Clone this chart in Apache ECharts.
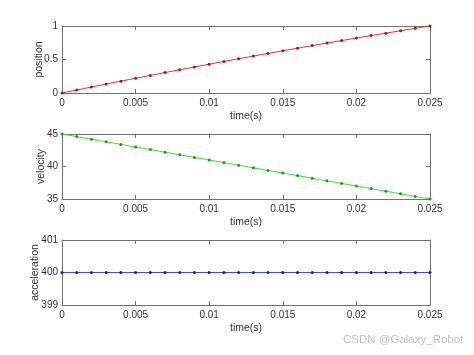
<!DOCTYPE html>
<html><head><meta charset="utf-8">
<script src="https://cdn.jsdelivr.net/npm/echarts@6/dist/echarts.min.js"></script>
<style>html,body{margin:0;padding:0;background:#fff}#c{width:474px;height:355px}</style>
</head><body><div id="c"></div>
<script>
const time = [0,0.001,0.002,0.003,0.004,0.005,0.006,0.007,0.008,0.009,0.010,0.011,0.012,0.013,0.014,0.015,0.016,0.017,0.018,0.019,0.020,0.021,0.022,0.023,0.024,0.025];
const position = [0,0.0448,0.0892,0.1332,0.1768,0.22,0.2628,0.3052,0.3472,0.3888,0.43,0.4708,0.5112,0.5512,0.5908,0.63,0.6688,0.7072,0.7452,0.7828,0.82,0.8568,0.8932,0.9292,0.9648,1.0];
const velocity = [45,44.6,44.2,43.8,43.4,43,42.6,42.2,41.8,41.4,41,40.6,40.2,39.8,39.4,39,38.6,38.2,37.8,37.4,37,36.6,36.2,35.8,35.4,35];
const acceleration = [400,400,400,400,400,400,400,400,400,400,400,400,400,400,400,400,400,400,400,400,400,400,400,400,400,400];
const xTicks = [0,0.005,0.01,0.015,0.02,0.025];
const yNames = ['position','velocity','acceleration'];
const yRanges = [[0,1,0.5],[35,45,5],[399,401,1]];

const font = 'Liberation Sans';
const axisCol = '#707070';
const txtCol = '#333';
const grids = [
  {left:62,right:44,top:26,height:67},
  {left:62,right:44,top:134,height:65},
  {left:62,right:44,top:240,height:65}
];
const nameGaps=[17,15,21];
const xAxis=[], yAxis=[], series=[];
const lineCols=['#e8323c','#3ee03e','#4a4ae0'];
const dotCols=['#a0142a','#1a9a1a','#1a1a80'];
const datas=[position,velocity,acceleration];
grids.forEach((g,i)=>{
  const base={type:'value',min:0,max:0.025,interval:0.005,gridIndex:i,
    axisLine:{show:true,onZero:false,lineStyle:{color:axisCol,width:1}},
    axisTick:{show:true,inside:true,length:4,lineStyle:{color:axisCol}},
    splitLine:{show:false}};
  xAxis.push(Object.assign({},base,{position:'bottom',name:'time(s)',nameLocation:'middle',nameGap:18,nameMoveOverlap:false,
    nameTextStyle:{fontFamily:font,fontSize:10.5,color:txtCol,verticalAlign:'top'},
    axisLabel:{fontFamily:font,fontSize:10,color:txtCol,margin:5,
      formatter:v=>{const t=xTicks.find(x=>Math.abs(x-v)<1e-9);return t===undefined?'':String(t);}}}));
  xAxis.push(Object.assign({},base,{position:'top',axisLabel:{show:false}}));
  const [mn,mx,iv]=yRanges[i];
  const yb={type:'value',min:mn,max:mx,interval:iv,gridIndex:i,
    axisLine:{show:true,onZero:false,lineStyle:{color:axisCol,width:1}},
    axisTick:{show:true,inside:true,length:4,lineStyle:{color:axisCol}},
    splitLine:{show:false}};
  yAxis.push(Object.assign({},yb,{position:'left',name:yNames[i],nameLocation:'middle',nameGap:nameGaps[i],nameMoveOverlap:false,
    nameTextStyle:{fontFamily:font,fontSize:10.5,color:txtCol},
    axisLabel:{fontFamily:font,fontSize:10,color:txtCol,margin:4}}));
  yAxis.push(Object.assign({},yb,{position:'right',axisLabel:{show:false}}));
  series.push({type:'line',xAxisIndex:i*2,yAxisIndex:i*2,
    data:time.map((t,k)=>[t,datas[i][k]]),
    symbol:'circle',symbolSize:3,showSymbol:true,
    lineStyle:{color:lineCols[i],width:1},
    itemStyle:{color:dotCols[i]},animation:false});
});
const chart=echarts.init(document.getElementById('c'),null,{renderer:'canvas'});
chart.setOption({
  animation:false,
  grid:grids,xAxis,yAxis,series,
  graphic:[{type:'text',left:343,top:334,style:{text:'CSDN @Galaxy_Robot',fontFamily:font,fontSize:11.5,fill:'#c0c0c0'}}]
});
</script></body></html>
